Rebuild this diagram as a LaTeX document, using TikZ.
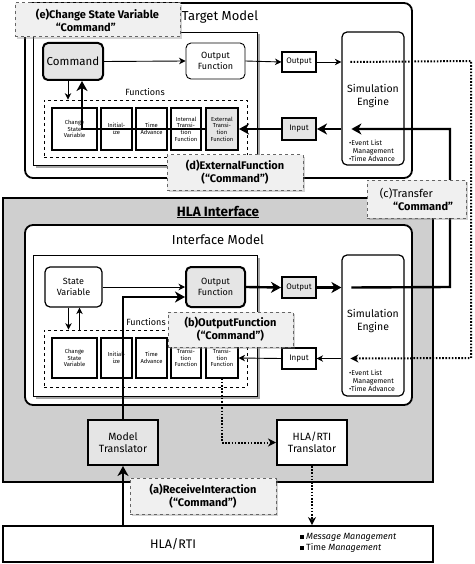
\documentclass[tikz,border=0pt]{standalone}
\usepackage{fontspec}
\setmainfont{Fira Sans}
\usepackage{tikz}
\usetikzlibrary{shapes.geometric, arrows, arrows.meta, shadows}

\newcommand{\callfont}{\fontsize{11}{13}\selectfont\bfseries}
\newcommand{\titlefont}{\fontsize{13}{15}\selectfont}
\newcommand{\boxfont}{\fontsize{9}{10.5}\selectfont}
\newcommand{\smallfont}{\fontsize{5.8}{6.6}\selectfont}
\newcommand{\enginefont}{\fontsize{10.5}{12.5}\selectfont}
\newcommand{\listfont}{\fontsize{7}{8}\selectfont}
\newcommand{\portfont}{\fontsize{8}{9}\selectfont}
\newcommand{\sqbullet}{\raisebox{0.5pt}{\rule{4pt}{4pt}}}

\tikzstyle{arrow} = [->,>={Stealth[length=6.5pt,width=6.5pt,inset=2pt]}]
\tikzstyle{bigarrow} = [line width=2.4pt,->,>={Stealth[length=10pt,width=11pt,inset=3pt]}]
\tikzstyle{dotline} = [line width=2pt,dash pattern=on 1.6pt off 1.6pt,>={Stealth[length=8pt,width=8pt,inset=2.5pt]}]
\tikzstyle{rbox} = [draw,rounded corners=5pt,fill=white,align=center]
\tikzstyle{fbox} = [draw,line width=1.1pt,fill=white,align=center,inner sep=0pt,font=\smallfont]
\tikzstyle{port} = [draw,line width=1.1pt,fill=white,minimum width=34pt,inner sep=0pt,font=\portfont]
\tikzstyle{callout} = [draw=black!60,dashed,line width=1pt,fill=gray!12,align=center,inner sep=0pt,font=\callfont,drop shadow={shadow xshift=2pt,shadow yshift=-2pt,opacity=0.35}]
\tikzstyle{panel} = [draw,fill=white,drop shadow={shadow xshift=2.5pt,shadow yshift=-2.5pt,fill=gray!70,opacity=1}]

\begin{document}
\begin{tikzpicture}[x=1pt,y=-1pt,line width=0.9pt]
\useasboundingbox (0,0) rectangle (474,564);

% Target Model:
\draw[line width=1.8pt,rounded corners=8pt,fill=white] (25,3) rectangle (412,178);
\node[font=\titlefont] (ttitle) at (220,17) {Target Model};
\draw[panel] (33,32) rectangle (257,165);

\node[rbox,line width=2pt,fill=gray!20,minimum width=60pt,minimum height=37pt,font=\fontsize{11.5}{13}\selectfont] (cmd) at (73,61.5) {Command};
\node[rbox,minimum width=59pt,minimum height=36pt,font=\boxfont] (tof) at (215.5,61) {Output\\Function};
\node[font=\boxfont] (tfl) at (145,92) {Functions};
\node[draw,dashed,line width=0.7pt,minimum width=203pt,minimum height=57pt] (tfun) at (145.5,128.5) {};
\node[fbox,minimum width=45pt,minimum height=42pt] (tf1) at (74.5,129) {Change\\State\\Variable};
\node[fbox,minimum width=31pt,minimum height=42pt] (tf2) at (116.5,129) {Initial-\\ize};
\node[fbox,minimum width=31pt,minimum height=42pt] (tf3) at (151.5,129) {Time\\Advance};
\node[fbox,minimum width=30pt,minimum height=42pt] (tf4) at (186,129) {Internal\\Transi-\\tion\\Function};
\node[fbox,line width=2pt,fill=gray!20,minimum width=32pt,minimum height=42pt] (text) at (222,129) {External\\Transi-\\tion\\Function};

\node[port,minimum height=20pt] (tout) at (299,62) {Output};
\node[port,line width=2pt,fill=gray!20,minimum height=22pt] (tin) at (299,129) {Input};
\node[rbox,line width=1.2pt,minimum width=62pt,minimum height=133pt] (teng) at (373,98.5) {};
\node[font=\enginefont,align=center] (tengl) at (373,96) {Simulation\\Engine};
\node[font=\listfont,align=left] (tengb) at (372,151) {\textbullet Event List\\\ \ Management\\\textbullet Time Advance};

% Target connections
\draw[arrow] (cmd.east) -- (tof.west);
\draw[arrow] (tof.east) -- (tout.west);
\draw[arrow] (tout.east) -- (teng.west |- tout);
\draw[arrow] ([xshift=-5pt]cmd.south) -- ([xshift=-5pt]cmd.south |- tfun.north);
\draw[bigarrow] (teng.west |- tin) -- (tin.east);
\draw[bigarrow] (tin.west) -- (text.east);
\draw[bigarrow] (text.west) -| ([xshift=9pt]cmd.south);

% HLA Interface:
\draw[line width=1.8pt,fill=gray!38] (3,198) rectangle (433,482);
\node[font=\fontsize{13.5}{15}\selectfont\bfseries] (htitle) at (218,212) {\underline{HLA Interface}};
\draw[line width=1.8pt,rounded corners=8pt,fill=white] (25,225) rectangle (412,405);
\node[font=\titlefont] (ititle) at (218,240) {Interface Model};
\draw[panel] (33,255) rectangle (257,396);

\node[rbox,line width=1.2pt,minimum width=57pt,minimum height=40pt,font=\boxfont] (sv) at (73.5,287) {State\\Variable};
\node[rbox,line width=2pt,fill=gray!20,minimum width=59pt,minimum height=40pt,font=\boxfont] (iof) at (215.5,287) {Output\\Function};
\node[font=\boxfont] (ifl) at (146,322) {Functions};
\node[draw,dashed,line width=0.7pt,minimum width=203pt,minimum height=57pt] (ifun) at (145.5,358.5) {};
\node[fbox,minimum width=45pt,minimum height=40pt] (if1) at (74.5,358) {Change\\State\\Variable};
\node[fbox,minimum width=31pt,minimum height=40pt] (if2) at (116.5,358) {Initial-\\ize};
\node[fbox,minimum width=31pt,minimum height=40pt] (if3) at (151.5,358) {Time\\Advance};
\node[fbox,minimum width=30pt,minimum height=40pt] (if4) at (186,358) {Transi-\\tion\\Function};
\node[fbox,minimum width=32pt,minimum height=40pt] (if5) at (222,358) {Transi-\\tion\\Function};

\node[port,line width=2pt,fill=gray!20,minimum height=21pt] (iout) at (299,287.5) {Output};
\node[port,minimum height=21pt] (iin) at (299,358.5) {Input};
\node[rbox,line width=1.2pt,minimum width=62pt,minimum height=141pt] (ieng) at (373,325.5) {};
\node[font=\enginefont,align=center] (iengl) at (373,321) {Simulation\\Engine};
\node[font=\listfont,align=left] (iengb) at (372,381) {\textbullet Event List\\\ \ Management\\\textbullet Time Advance};

\node[draw,line width=2pt,fill=gray!20,minimum width=70pt,minimum height=45pt,font=\enginefont,align=center] (mt) at (123,442.5) {Model\\Translator};
\node[draw,line width=2pt,fill=white,minimum width=70pt,minimum height=45pt,font=\enginefont,align=center] (ht) at (312,442.5) {HLA/RTI\\Translator};

% HLA/RTI:
\node[draw,line width=1.8pt,fill=white,minimum width=430pt,minimum height=36pt] (rti) at (218,544) {};
\node[font=\fontsize{12.5}{14}\selectfont] (rtil) at (173,544) {HLA/RTI};
\node[font=\fontsize{9}{11}\selectfont,align=left] (rtib) at (348,543) {\sqbullet\ \textit{Message Management}\\\sqbullet\ Time \textit{Management}};

% Interface connections
\draw[arrow] (sv.east) -- (iof.west);
\draw[arrow] ([xshift=-5pt]sv.south) -- ([xshift=-5pt]sv.south |- ifun.north);
\draw[arrow] ([xshift=6pt]sv.south |- ifun.north) -- ([xshift=6pt]sv.south);
\draw[bigarrow] (iof.east) -- (iout.west);
\draw[bigarrow] (iout.east) -- (ieng.west |- iout);
\draw[arrow] (ieng.west |- iin) -- (iin.east);
\draw[arrow] (iin.west) -- (if5.east);
\draw[bigarrow] (rti.north -| mt.south) -- (mt.south);
\draw[bigarrow] (mt.north) |- ([yshift=-10pt]iof.west);
\draw[dotline,->] (if5.south) |- (ht.west);
\draw[dotline,->] (ht.south) -- (ht.south |- rti.north);

% Transfer between the engines
\coordinate (loopa) at (450,287);
\coordinate (loopb) at (450,129);
\coordinate (dota) at (471,61);
\coordinate (dotb) at (471,358);
\draw[bigarrow] ([xshift=10pt]ieng.west |- iout) -- (loopa) -- (loopb) -- ([xshift=10pt]teng.west |- tin);
\draw[dotline,->] ([xshift=9pt]teng.west |- tout) -- (dota) -- (dotb) -- ([xshift=9pt]ieng.west |- iin);

% Callouts
\node[callout,align=left,minimum width=165pt,minimum height=34pt] (ce) at (97.5,20) {(e)Change State Variable\\\hspace*{1.8em}“Command”};
\node[callout,minimum width=136pt,minimum height=35pt] (cd) at (235,172.5) {(d)ExternalFunction\\(“Command”)};
\node[callout,align=left,minimum width=99pt,minimum height=38pt,font=\fontsize{11}{13}\selectfont] (cc) at (416.5,199) {(c)Transfer\\\hspace*{1.2em}\textbf{“Command”}};
\node[callout,minimum width=125pt,minimum height=35pt] (cb) at (230.5,329.5) {(b)OutputFunction\\(“Command”)};
\node[callout,minimum width=146pt,minimum height=36pt] (ca) at (203,496) {(a)ReceiveInteraction\\(“Command”)};
\end{tikzpicture}
\end{document}
